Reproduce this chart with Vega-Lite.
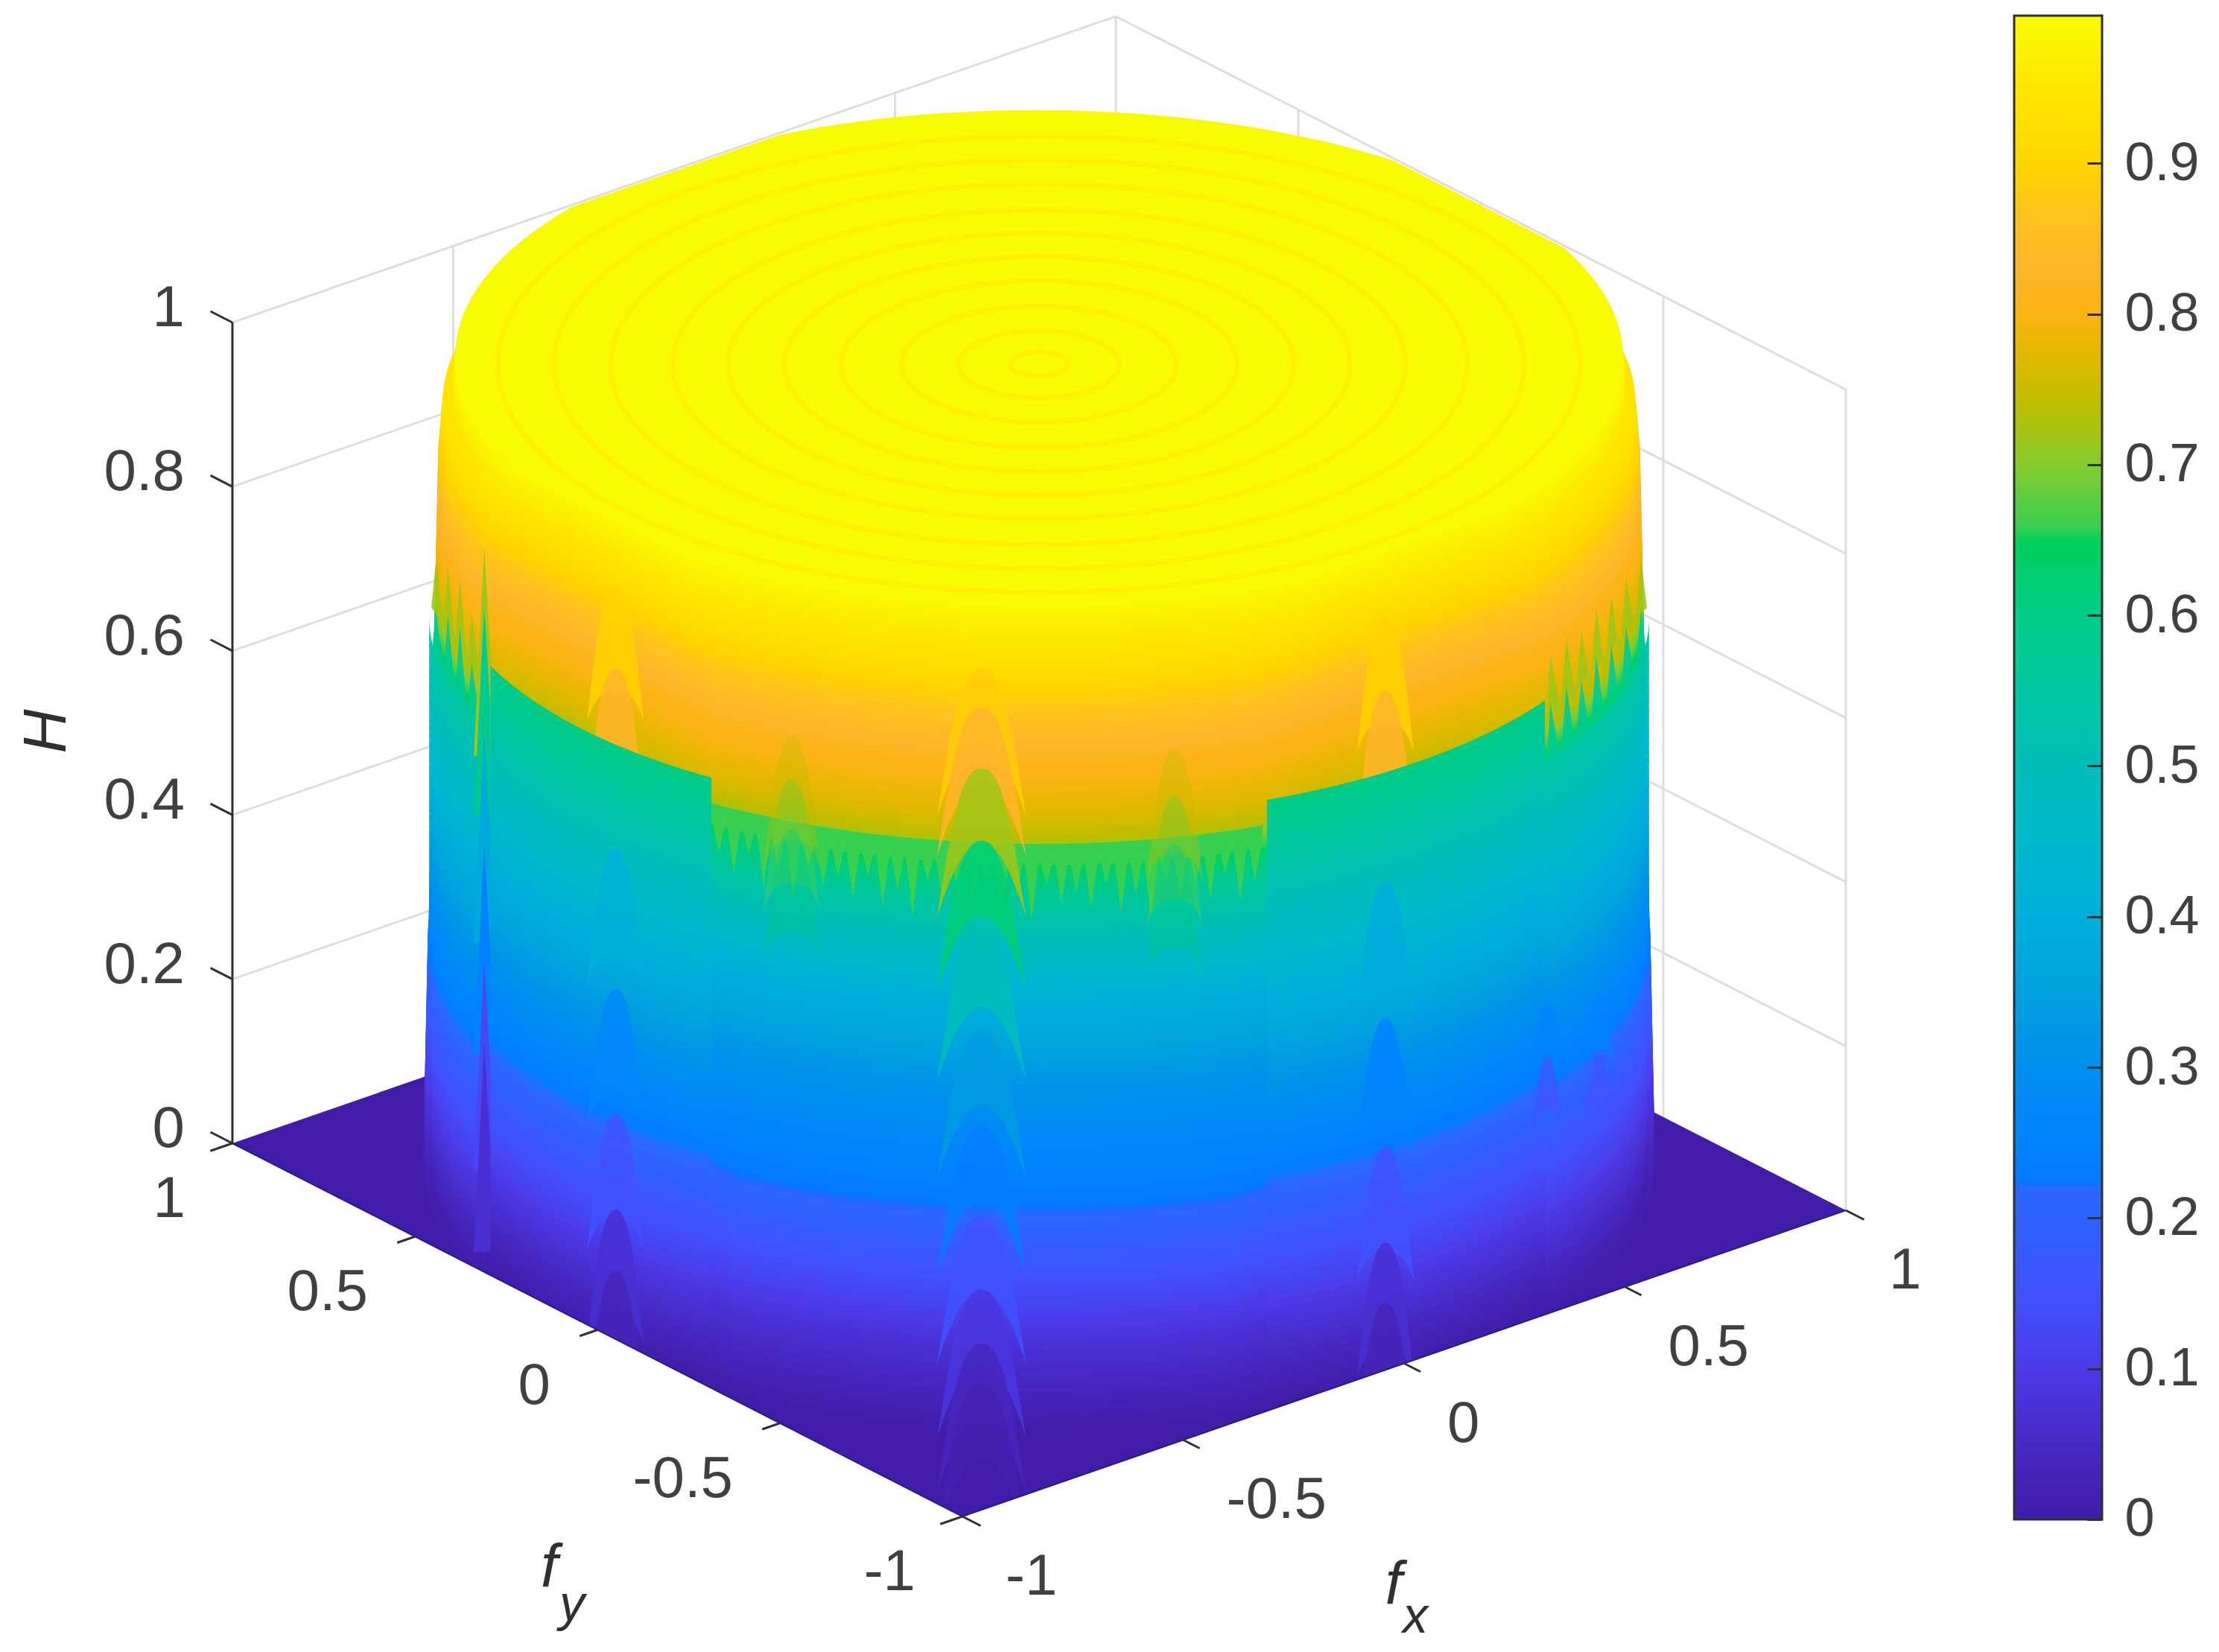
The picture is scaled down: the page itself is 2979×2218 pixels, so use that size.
{"$schema":"https://vega.github.io/schema/vega-lite/v6.json","width":2979,"height":2218,"autosize":{"type":"none"},"padding":0,"background":"white","config":{"view":{"stroke":null}},
"data":{"values":[
{"k":"f","H":0,"C":0},{"k":"bar","H":0,"H2":0.998,"C":0},{"k":"z","H":0.7,"C":0.66},{"k":"y","H":0.73,"C":0.72},{"k":"y","H":0.67,"C":0.58},
{"k":"g","fx":-1,"fy":1,"H":0.2,"fx2":1,"fy2":1,"H2":0.2},{"k":"g","fx":-1,"fy":1,"H":0.4,"fx2":1,"fy2":1,"H2":0.4},{"k":"g","fx":-1,"fy":1,"H":0.6,"fx2":1,"fy2":1,"H2":0.6},{"k":"g","fx":-1,"fy":1,"H":0.8,"fx2":1,"fy2":1,"H2":0.8},{"k":"g","fx":-1,"fy":1,"H":1,"fx2":1,"fy2":1,"H2":1},
{"k":"g","fx":1,"fy":1,"H":0.2,"fx2":1,"fy2":-1,"H2":0.2},{"k":"g","fx":1,"fy":1,"H":0.4,"fx2":1,"fy2":-1,"H2":0.4},{"k":"g","fx":1,"fy":1,"H":0.6,"fx2":1,"fy2":-1,"H2":0.6},{"k":"g","fx":1,"fy":1,"H":0.8,"fx2":1,"fy2":-1,"H2":0.8},{"k":"g","fx":1,"fy":1,"H":1,"fx2":1,"fy2":-1,"H2":1},
{"k":"g","fx":-0.5,"fy":1,"H":0,"fx2":-0.5,"fy2":1,"H2":1},{"k":"g","fx":0,"fy":1,"H":0,"fx2":0,"fy2":1,"H2":1},{"k":"g","fx":0.5,"fy":1,"H":0,"fx2":0.5,"fy2":1,"H2":1},{"k":"g","fx":1,"fy":1,"H":0,"fx2":1,"fy2":1,"H2":1},
{"k":"g","fx":1,"fy":0.5,"H":0,"fx2":1,"fy2":0.5,"H2":1},{"k":"g","fx":1,"fy":0,"H":0,"fx2":1,"fy2":0,"H2":1},{"k":"g","fx":1,"fy":-0.5,"H":0,"fx2":1,"fy2":-0.5,"H2":1},{"k":"g","fx":1,"fy":-1,"H":0,"fx2":1,"fy2":-1,"H2":1},
{"k":"e","fx":-1,"fy":1,"fx2":-1,"fy2":-1},{"k":"e","fx":-1,"fy":-1,"fx2":1,"fy2":-1},
{"k":"d","fx":-1,"fy":1,"H":0,"fx2":-1,"fy2":1,"H2":1},
{"k":"d","fx":-1,"fy":1,"H":0,"fx2":-1,"fy2":1.06,"H2":0},{"k":"d","fx":-1,"fy":1,"H":0.2,"fx2":-1,"fy2":1.06,"H2":0.2},{"k":"d","fx":-1,"fy":1,"H":0.4,"fx2":-1,"fy2":1.06,"H2":0.4},{"k":"d","fx":-1,"fy":1,"H":0.6,"fx2":-1,"fy2":1.06,"H2":0.6},{"k":"d","fx":-1,"fy":1,"H":0.8,"fx2":-1,"fy2":1.06,"H2":0.8},{"k":"d","fx":-1,"fy":1,"H":1,"fx2":-1,"fy2":1.06,"H2":1},
{"k":"d","fx":-1,"fy":1,"fx2":-1.05,"fy2":1},{"k":"d","fx":-1,"fy":0.5,"fx2":-1.04,"fy2":0.5},{"k":"d","fx":-1,"fy":0,"fx2":-1.04,"fy2":0},{"k":"d","fx":-1,"fy":-0.5,"fx2":-1.04,"fy2":-0.5},{"k":"d","fx":-1,"fy":-1,"fx2":-1.05,"fy2":-1},
{"k":"d","fx":-1,"fy":-1,"fx2":-1,"fy2":-1.05},{"k":"d","fx":-0.5,"fy":-1,"fx2":-0.5,"fy2":-1.045},{"k":"d","fx":0,"fy":-1,"fx2":0,"fy2":-1.045},{"k":"d","fx":0.5,"fy":-1,"fx2":0.5,"fy2":-1.045},{"k":"d","fx":1,"fy":-1,"fx2":1,"fy2":-1.05},
{"k":"ly","fx":-1,"fy":1,"t":"1"},{"k":"ly","fx":-1,"fy":0.5,"t":"0.5"},{"k":"ly","fx":-1,"fy":0,"t":"0"},{"k":"ly","fx":-1,"fy":-0.5,"t":"-0.5"},{"k":"ly","fx":-1,"fy":-1,"t":"-1"},
{"k":"lx","fx":-1,"fy":-1,"t":"-1"},{"k":"lx","fx":-0.5,"fy":-1,"t":"-0.5"},{"k":"lx","fx":0,"fy":-1,"t":"0"},{"k":"lx","fx":0.5,"fy":-1,"t":"0.5"},{"k":"lx","fx":1,"fy":-1,"t":"1"},
{"k":"lh","fx":-1,"fy":1,"H":0,"t":"0"},{"k":"lh","fx":-1,"fy":1,"H":0.2,"t":"0.2"},{"k":"lh","fx":-1,"fy":1,"H":0.4,"t":"0.4"},{"k":"lh","fx":-1,"fy":1,"H":0.6,"t":"0.6"},{"k":"lh","fx":-1,"fy":1,"H":0.8,"t":"0.8"},{"k":"lh","fx":-1,"fy":1,"H":1,"t":"1"},
{"k":"n","fx":-1.693,"fy":-0.7066,"t":"f"},{"k":"n","fx":-0.599,"fy":-1.6963,"t":"f"},{"k":"m","fx":-1.7626,"fy":-0.8535,"t":"y"},{"k":"m","fx":-0.6563,"fy":-1.8249,"t":"x"},{"k":"T","fx":-0.1631,"fy":2.521,"t":"H"},
{"k":"r","H":0.99,"r":0.05},{"k":"r","H":0.99,"r":0.14},{"k":"r","H":0.99,"r":0.24},{"k":"r","H":0.99,"r":0.346},{"k":"r","H":0.99,"r":0.445},{"k":"r","H":0.99,"r":0.543},{"k":"r","H":0.99,"r":0.64},{"k":"r","H":0.99,"r":0.748},{"k":"r","H":0.99,"r":0.847},{"k":"r","H":0.99,"r":0.945},
{"k":"v","fx":-0.943,"fy":-0.4638,"H":0.818,"C":0.74},{"k":"v","fx":-0.943,"fy":-0.4638,"H":0.766,"C":0.68},{"k":"v","fx":-0.943,"fy":-0.4638,"H":0.705,"C":0.6},
{"k":"v","fx":-0.4678,"fy":-0.9376,"H":0.821,"C":0.74},{"k":"v","fx":-0.4678,"fy":-0.9376,"H":0.764,"C":0.68},{"k":"v","fx":-0.4678,"fy":-0.9376,"H":0.706,"C":0.6},
{"k":"a","fx":-0.75,"fy":-0.75,"H":0.93,"C":0.89},{"k":"a","fx":-0.75,"fy":-0.75,"H":0.882,"C":0.83},{"k":"a","fx":-0.75,"fy":-0.75,"H":0.808,"C":0.72},{"k":"a","fx":-0.75,"fy":-0.75,"H":0.72,"C":0.62},{"k":"a","fx":-0.75,"fy":-0.75,"H":0.608,"C":0.5},{"k":"a","fx":-0.75,"fy":-0.75,"H":0.489,"C":0.34},{"k":"a","fx":-0.75,"fy":-0.75,"H":0.372,"C":0.235},{"k":"a","fx":-0.75,"fy":-0.75,"H":0.263,"C":0.15},{"k":"a","fx":-0.75,"fy":-0.75,"H":0.173,"C":0.09},{"k":"a","fx":-0.75,"fy":-0.75,"H":0.107,"C":0.04},{"k":"a","fx":-0.75,"fy":-0.75,"H":0.058,"C":0.015},
{"k":"c","fx":-1,"fy":-0.05,"H":0.917,"C":0.9},{"k":"c","fx":-1,"fy":-0.05,"H":0.817,"C":0.83},{"k":"c","fx":-1,"fy":-0.05,"H":0.597,"C":0.41},{"k":"c","fx":-1,"fy":-0.05,"H":0.427,"C":0.27},{"k":"c","fx":-1,"fy":-0.05,"H":0.274,"C":0.15},{"k":"c","fx":-1,"fy":-0.05,"H":0.158,"C":0.07},{"k":"c","fx":-1,"fy":-0.05,"H":0.083,"C":0.03},
{"k":"c","fx":-0.042,"fy":-1,"H":0.917,"C":0.9},{"k":"c","fx":-0.042,"fy":-1,"H":0.827,"C":0.83},{"k":"c","fx":-0.042,"fy":-1,"H":0.595,"C":0.39},{"k":"c","fx":-0.042,"fy":-1,"H":0.428,"C":0.25},{"k":"c","fx":-0.042,"fy":-1,"H":0.272,"C":0.15},{"k":"c","fx":-0.042,"fy":-1,"H":0.155,"C":0.07},{"k":"c","fx":-0.042,"fy":-1,"H":0.082,"C":0.03},
{"k":"q","fx":0.325,"fy":-1,"H":0.38,"C":0.25},{"k":"q","fx":0.325,"fy":-1,"H":0.313,"C":0.15},{"k":"q","fx":0.48,"fy":-0.954,"H":0.345,"C":0.25},{"k":"q","fx":0.48,"fy":-0.954,"H":0.276,"C":0.15},
{"k":"s","fx":-1,"fy":0.31,"H":0.883,"C":0.72},{"k":"s","fx":-1,"fy":0.31,"H":0.811,"C":0.58},{"k":"s","fx":-1,"fy":0.31,"H":0.656,"C":0.38},{"k":"s","fx":-1,"fy":0.31,"H":0.52,"C":0.25},{"k":"s","fx":-1,"fy":0.31,"H":0.379,"C":0.13},{"k":"s","fx":-1,"fy":0.31,"H":0.279,"C":0.07},
{"k":"b","H":0.01,"C":0.008},{"k":"b","H":0.02,"C":0.016},{"k":"b","H":0.03,"C":0.025},{"k":"b","H":0.04,"C":0.033},{"k":"b","H":0.05,"C":0.041},{"k":"b","H":0.06,"C":0.049},{"k":"b","H":0.07,"C":0.057},{"k":"b","H":0.08,"C":0.066},{"k":"b","H":0.09,"C":0.074},{"k":"b","H":0.1,"C":0.082},{"k":"b","H":0.11,"C":0.09},{"k":"b","H":0.12,"C":0.098},{"k":"b","H":0.13,"C":0.107},{"k":"b","H":0.14,"C":0.115},{"k":"b","H":0.15,"C":0.123},{"k":"b","H":0.16,"C":0.131},{"k":"b","H":0.17,"C":0.139},{"k":"b","H":0.18,"C":0.148},{"k":"b","H":0.19,"C":0.156},{"k":"b","H":0.2,"C":0.164},{"k":"b","H":0.21,"C":0.172},{"k":"b","H":0.22,"C":0.18},{"k":"b","H":0.23,"C":0.189},{"k":"b","H":0.24,"C":0.197},{"k":"b","H":0.25,"C":0.205},{"k":"b","H":0.26,"C":0.213},{"k":"b","H":0.27,"C":0.221},{"k":"b","H":0.28,"C":0.23},{"k":"b","H":0.29,"C":0.238},{"k":"b","H":0.3,"C":0.246},{"k":"b","H":0.31,"C":0.254},{"k":"b","H":0.32,"C":0.262},{"k":"b","H":0.33,"C":0.271},{"k":"b","H":0.34,"C":0.279},{"k":"b","H":0.35,"C":0.287},{"k":"b","H":0.36,"C":0.295},{"k":"b","H":0.37,"C":0.303},{"k":"b","H":0.38,"C":0.312},{"k":"b","H":0.39,"C":0.32},{"k":"b","H":0.4,"C":0.328},{"k":"b","H":0.41,"C":0.336},{"k":"b","H":0.42,"C":0.344},{"k":"b","H":0.43,"C":0.353},{"k":"b","H":0.44,"C":0.361},{"k":"b","H":0.45,"C":0.369},{"k":"b","H":0.46,"C":0.377},{"k":"b","H":0.47,"C":0.385},{"k":"b","H":0.48,"C":0.394},{"k":"b","H":0.49,"C":0.402},{"k":"b","H":0.5,"C":0.41},{"k":"b","H":0.51,"C":0.418},{"k":"b","H":0.52,"C":0.426},{"k":"b","H":0.53,"C":0.435},{"k":"b","H":0.54,"C":0.443},{"k":"b","H":0.55,"C":0.451},{"k":"b","H":0.56,"C":0.459},{"k":"b","H":0.57,"C":0.467},{"k":"b","H":0.58,"C":0.476},{"k":"b","H":0.59,"C":0.484},{"k":"b","H":0.6,"C":0.492},{"k":"b","H":0.61,"C":0.5},{"k":"b","H":0.62,"C":0.508},{"k":"b","H":0.63,"C":0.517},{"k":"b","H":0.64,"C":0.525},{"k":"b","H":0.65,"C":0.533},{"k":"b","H":0.66,"C":0.541},{"k":"b","H":0.67,"C":0.55},{"k":"b","H":0.68,"C":0.558},{"k":"b","H":0.69,"C":0.566},{"k":"b","H":0.7,"C":0.575},{"k":"b","H":0.71,"C":0.583},{"k":"b","H":0.72,"C":0.591},{"k":"b","H":0.73,"C":0.6},
{"H":0.005,"C":0.004},{"H":0.01,"C":0.007},{"H":0.015,"C":0.011},{"H":0.02,"C":0.014},{"H":0.025,"C":0.018},{"H":0.03,"C":0.021},{"H":0.035,"C":0.025},{"H":0.04,"C":0.028},{"H":0.045,"C":0.032},{"H":0.05,"C":0.035},{"H":0.055,"C":0.039},{"H":0.06,"C":0.042},{"H":0.065,"C":0.046},{"H":0.07,"C":0.049},{"H":0.075,"C":0.053},{"H":0.08,"C":0.056},{"H":0.085,"C":0.06},{"H":0.09,"C":0.063},{"H":0.095,"C":0.067},{"H":0.1,"C":0.07},{"H":0.105,"C":0.074},{"H":0.11,"C":0.079},{"H":0.115,"C":0.083},{"H":0.12,"C":0.088},{"H":0.125,"C":0.092},{"H":0.13,"C":0.096},{"H":0.135,"C":0.101},{"H":0.14,"C":0.105},{"H":0.145,"C":0.109},{"H":0.15,"C":0.114},{"H":0.155,"C":0.118},{"H":0.16,"C":0.123},{"H":0.165,"C":0.127},{"H":0.17,"C":0.131},{"H":0.175,"C":0.136},{"H":0.18,"C":0.14},{"H":0.185,"C":0.145},{"H":0.19,"C":0.149},{"H":0.195,"C":0.154},{"H":0.2,"C":0.158},{"H":0.205,"C":0.163},{"H":0.21,"C":0.167},{"H":0.215,"C":0.172},{"H":0.22,"C":0.176},{"H":0.225,"C":0.181},{"H":0.23,"C":0.186},{"H":0.235,"C":0.19},{"H":0.24,"C":0.195},{"H":0.245,"C":0.199},{"H":0.25,"C":0.204},{"H":0.255,"C":0.208},{"H":0.26,"C":0.213},{"H":0.265,"C":0.217},{"H":0.27,"C":0.222},{"H":0.275,"C":0.225},{"H":0.28,"C":0.229},{"H":0.285,"C":0.232},{"H":0.29,"C":0.235},{"H":0.295,"C":0.238},{"H":0.3,"C":0.242},{"H":0.305,"C":0.245},{"H":0.31,"C":0.248},{"H":0.315,"C":0.251},{"H":0.32,"C":0.255},{"H":0.325,"C":0.258},{"H":0.33,"C":0.261},{"H":0.335,"C":0.264},{"H":0.34,"C":0.268},{"H":0.345,"C":0.271},{"H":0.35,"C":0.274},{"H":0.355,"C":0.278},{"H":0.36,"C":0.281},{"H":0.365,"C":0.284},{"H":0.37,"C":0.287},{"H":0.375,"C":0.291},{"H":0.38,"C":0.294},{"H":0.385,"C":0.297},{"H":0.39,"C":0.3},{"H":0.395,"C":0.304},{"H":0.4,"C":0.307},{"H":0.405,"C":0.31},{"H":0.41,"C":0.313},{"H":0.415,"C":0.317},{"H":0.42,"C":0.32},{"H":0.425,"C":0.324},{"H":0.43,"C":0.329},{"H":0.435,"C":0.333},{"H":0.44,"C":0.337},{"H":0.445,"C":0.341},{"H":0.45,"C":0.346},{"H":0.455,"C":0.35},{"H":0.46,"C":0.354},{"H":0.465,"C":0.359},{"H":0.47,"C":0.363},{"H":0.475,"C":0.367},{"H":0.48,"C":0.371},{"H":0.485,"C":0.376},{"H":0.49,"C":0.38},{"H":0.495,"C":0.384},{"H":0.5,"C":0.389},{"H":0.505,"C":0.393},{"H":0.51,"C":0.397},{"H":0.515,"C":0.401},{"H":0.52,"C":0.406},{"H":0.525,"C":0.41},{"H":0.53,"C":0.417},{"H":0.535,"C":0.423},{"H":0.54,"C":0.43},{"H":0.545,"C":0.436},{"H":0.55,"C":0.443},{"H":0.555,"C":0.449},{"H":0.56,"C":0.456},{"H":0.565,"C":0.462},{"H":0.57,"C":0.469},{"H":0.575,"C":0.475},{"H":0.58,"C":0.482},{"H":0.585,"C":0.488},{"H":0.59,"C":0.495},{"H":0.595,"C":0.501},{"H":0.6,"C":0.508},{"H":0.605,"C":0.514},{"H":0.61,"C":0.521},{"H":0.615,"C":0.527},{"H":0.62,"C":0.534},{"H":0.625,"C":0.54},{"H":0.63,"C":0.547},{"H":0.635,"C":0.553},{"H":0.64,"C":0.56},{"H":0.645,"C":0.569},{"H":0.65,"C":0.578},{"H":0.655,"C":0.586},{"H":0.66,"C":0.595},{"H":0.665,"C":0.604},{"H":0.67,"C":0.613},{"H":0.675,"C":0.621},{"H":0.68,"C":0.63},{"H":0.685,"C":0.644},{"H":0.69,"C":0.658},{"H":0.695,"C":0.671},{"H":0.7,"C":0.685},{"H":0.705,"C":0.699},{"H":0.71,"C":0.713},{"H":0.715,"C":0.726},{"H":0.72,"C":0.74},{"H":0.725,"C":0.746},{"H":0.73,"C":0.752},{"H":0.735,"C":0.758},{"H":0.74,"C":0.764},{"H":0.745,"C":0.77},{"H":0.75,"C":0.773},{"H":0.755,"C":0.776},{"H":0.76,"C":0.78},{"H":0.765,"C":0.783},{"H":0.77,"C":0.786},{"H":0.775,"C":0.789},{"H":0.78,"C":0.792},{"H":0.785,"C":0.795},{"H":0.79,"C":0.799},{"H":0.795,"C":0.802},{"H":0.8,"C":0.805},{"H":0.805},{"H":0.81},{"H":0.815},{"H":0.82},{"H":0.825},{"H":0.83},{"H":0.835},{"H":0.84},{"H":0.845},{"H":0.85},{"H":0.855},{"H":0.86},{"H":0.865},{"H":0.87},{"H":0.875},{"H":0.88},{"H":0.885},{"H":0.89},{"H":0.895},{"H":0.9},{"H":0.905},{"H":0.91},{"H":0.915},{"H":0.92},{"H":0.925},{"H":0.93},{"H":0.935},{"H":0.94},{"H":0.945},{"H":0.95},{"H":0.955},{"H":0.96},{"H":0.965},{"H":0.97},{"H":0.975},{"H":0.98},{"H":0.985},{"H":0.99},{"H":0.995},{"H":1}
]},
"transform":[
{"calculate":"1395+593*(datum.fx||0)-490*(datum.fy||0)","as":"sx"},
{"calculate":"1580-205.5*(datum.fx||0)-250.5*(datum.fy||0)-1102*(datum.H||0)","as":"sy"},
{"calculate":"1395+593*(datum.fx2||0)-490*(datum.fy2||0)","as":"sx2"},
{"calculate":"1580-205.5*(datum.fx2||0)-250.5*(datum.fy2||0)-1102*(datum.H2||0)","as":"sy2"},
{"calculate":"datum.C==null?datum.H:datum.C","as":"Cv"}
],
"encoding":{
"x":{"field":"sx","type":"quantitative","axis":null,"scale":{"domain":[0,2979],"nice":false,"zero":false}},
"y":{"field":"sy","type":"quantitative","axis":null,"scale":{"domain":[2218,0],"nice":false,"zero":false}},
"color":{"field":"Cv","type":"quantitative","legend":null,"scale":{"interpolate":"rgb","clamp":true,"domain":[0,0.05,0.1,0.15,0.2,0.22,0.225,0.25,0.3,0.35,0.4,0.45,0.5,0.55,0.6,0.65,0.66,0.7,0.74,0.78,0.8,0.83,0.87,0.9,0.95,1],"range":["#421CA8","#4828C4","#4B3AE6","#4152FF","#2F62FF","#2A66FF","#0678FF","#0082FF","#008EF0","#00A0DE","#00AEDA","#00B9CC","#00BEBA","#00C6A2","#00CC88","#00D05C","#38D050","#84CC30","#BDBE00","#E6B800","#FBB414","#FFB52A","#FFC41C","#FFD400","#FFE600","#F9FC00"]}}
},
"resolve":{"scale":{"y":"independent","size":"independent"},"axis":{"y":"independent"}},
"layer":[
{"transform":[{"filter":"datum.k=='g'"}],"mark":{"type":"rule","strokeWidth":3},"encoding":{"x2":{"field":"sx2"},"y2":{"field":"sy2"},"color":{"value":"#DEDEDE"}}},
{"transform":[{"filter":"datum.k=='f'"}],"mark":{"type":"point","filled":true,"opacity":1,"strokeWidth":0,"size":5760000,"shape":"M-.9025 -.0375L-.0858 .38L.9025 .0375L.0858 -.38Z"}},
{"transform":[{"filter":"!datum.k&&datum.H<0.3"}],"mark":{"type":"point","filled":true,"opacity":1,"strokeWidth":0,"shape":"M-.974 .1379L-.5085 .3759A1.0285 .4334 0 0 0 .3309 .4107L.8941 .2155A1.0285 .4334 0 0 0 .974 -.1379L.5085 -.3759A1.0285 .4334 0 0 0 -.3309 -.4107L-.8941 -.2155A1.0285 .4334 0 0 0 -.974 .1379Z"},"encoding":{"size":{"field":"H","type":"quantitative","legend":null,"scale":{"zero":false,"domain":[0,0.3],"range":[2588700,2545700]}}}},
{"transform":[{"filter":"!datum.k&&datum.H>=0.3&&datum.H<0.6"}],"mark":{"type":"point","filled":true,"opacity":1,"strokeWidth":0,"shape":"M-.9544 .1479L-.5281 .3659A1.0189 .4293 0 0 0 .3545 .4025L.8705 .2238A1.0189 .4293 0 0 0 .9544 -.1479L.5281 -.3659A1.0189 .4293 0 0 0 -.3545 -.4025L-.8705 -.2238A1.0189 .4293 0 0 0 -.9544 .1479Z"},"encoding":{"size":{"field":"H","type":"quantitative","legend":null,"scale":{"zero":false,"domain":[0.3,0.6],"range":[2593900,2550300]}}}},
{"transform":[{"filter":"!datum.k&&datum.H>=0.6&&datum.H<0.88"}],"mark":{"type":"point","filled":true,"opacity":1,"strokeWidth":0,"shape":"M-.9373 .1566L-.5453 .3571A1.0093 .4253 0 0 0 .3753 .3954L.8498 .2309A1.0093 .4253 0 0 0 .9373 -.1566L.5453 -.3571A1.0093 .4253 0 0 0 -.3753 -.3954L-.8498 -.2309A1.0093 .4253 0 0 0 -.9373 .1566Z"},"encoding":{"size":{"field":"H","type":"quantitative","legend":null,"scale":{"zero":false,"domain":[0.6,0.88],"range":[2599100,2554900]}}}},
{"transform":[{"filter":"!datum.k&&datum.H>=0.88&&datum.H<0.95"}],"mark":{"type":"point","filled":true,"opacity":1,"strokeWidth":0,"shape":"M-.9163 .1674L-.5663 .3464A.9997 .4212 0 0 0 .4008 .3865L.8243 .2398A.9997 .4212 0 0 0 .9163 -.1674L.5663 -.3464A.9997 .4212 0 0 0 -.4008 -.3865L-.8243 -.2398A.9997 .4212 0 0 0 -.9163 .1674Z"},"encoding":{"size":{"field":"H","type":"quantitative","legend":null,"scale":{"zero":false,"domain":[0.88,0.95],"range":[2604600,2560000]}}}},
{"transform":[{"filter":"!datum.k&&datum.H>=0.95"}],"mark":{"type":"point","filled":true,"opacity":1,"strokeWidth":0,"shape":"M-.885 .1833L-.5975 .3305A.9997 .4212 0 0 0 .4383 .3735L.7868 .2528A.9997 .4212 0 0 0 .885 -.1833L.5975 -.3305A.9997 .4212 0 0 0 -.4383 -.3735L-.7868 -.2528A.9997 .4212 0 0 0 -.885 .1833Z"},"encoding":{"size":{"field":"H","type":"quantitative","legend":null,"scale":{"zero":false,"domain":[0.95,1],"range":[2560000,2530000]}}}},
{"transform":[{"filter":"datum.k=='z'"}],"mark":{"type":"point","filled":true,"opacity":1,"strokeWidth":0,"size":2560000,"shape":"M-.55 .357L-.5375 .42L-.525 .363L-.5125 .456L-.5 .369L-.4875 .422L-.475 .375L-.4625 .478L-.45 .381L-.4375 .453L-.425 .386L-.4125 .498L-.4 .39L-.3875 .443L-.375 .395L-.3625 .477L-.35 .399L-.3375 .461L-.325 .403L-.3125 .495L-.3 .406L-.2875 .458L-.275 .409L-.2625 .51L-.25 .412L-.2375 .484L-.225 .415L-.2125 .526L-.2 .417L-.1875 .468L-.175 .419L-.1625 .5L-.15 .421L-.1375 .481L-.125 .422L-.1125 .512L-.1 .423L-.0875 .473L-.075 .424L-.0625 .524L-.05 .425L-.0375 .495L-.025 .425L-.0125 .535L0 .425L.0125 .475L.025 .425L.0375 .505L.05 .425L.0625 .485L.075 .424L.0875 .513L.1 .423L.1125 .473L.125 .422L.1375 .521L.15 .421L.1625 .49L.175 .419L.1875 .528L.2 .417L.2125 .466L.225 .415L.2375 .494L.25 .412L.2625 .471L.275 .409L.2875 .498L.3 .406L.3125 .455L.325 .403L.3375 .5L.35 .399L.3625 .467L.375 .395L.375 .375A1.0093 .4253 0 0 1 -.55 .337Z"}},
{"transform":[{"filter":"datum.k=='v'"}],"mark":{"type":"point","filled":true,"opacity":0.35,"strokeWidth":0,"size":160000,"shape":"M-.19 .9C-.13 .35 -.09 0 0 0C.09 0 .13 .35 .19 .9C.14 .7 .08 .7 0 .7C-.08 .7 -.14 .7 -.19 .9Z"}},
{"transform":[{"filter":"datum.k=='a'"}],"mark":{"type":"point","filled":true,"opacity":0.85,"strokeWidth":0,"size":160000,"shape":"M-.3 1C-.2 .4 -.15 0 0 0C.15 0 .2 .4 .3 1C.22 .75 .12 .5 0 .5C-.12 .5 -.22 .75 -.3 1Z"}},
{"transform":[{"filter":"datum.k=='c'&&datum.C>0.7"}],"mark":{"type":"point","filled":true,"opacity":0.85,"strokeWidth":0,"size":160000,"shape":"M-.19 .9C-.13 .35 -.09 0 0 0C.09 0 .13 .35 .19 .9C.14 .75 .08 .7 0 .7C-.08 .7 -.14 .75 -.19 .9Z"}},
{"transform":[{"filter":"datum.k=='b'"}],"mark":{"type":"point","filled":true,"opacity":1,"strokeWidth":0,"size":2560000,"shape":"M-.929 .1556A.9997 .4212 0 0 0 -.55 .3517L-.55 .3357A.9997 .4212 0 0 1 -.929 .1396Z"}},
{"transform":[{"filter":"datum.k=='b'"}],"mark":{"type":"point","filled":true,"opacity":1,"strokeWidth":0,"size":2560000,"shape":"M.3825 .3891A.9997 .4212 0 0 0 .8488 .2225L.8488 .2065A.9997 .4212 0 0 1 .3825 .3731Z"}},
{"transform":[{"filter":"datum.k=='y'"}],"mark":{"type":"point","filled":true,"opacity":0.9,"strokeWidth":0,"size":2560000,"shape":"M-1.02 .05L-1.012 -.03L-1 .08L-.992 -.02L-.98 .11L-.972 0L-.96 .14L-.952 .06L-.94 .15L-.933 .05L-.93 .19Z"}},
{"transform":[{"filter":"datum.k=='y'"}],"mark":{"type":"point","filled":true,"opacity":0.9,"strokeWidth":0,"size":2560000,"shape":"M.85 .25L.858 .13L.875 .22L.885 .1L.9 .2L.91 .09L.925 .18L.935 .05L.95 .16L.96 .03L.975 .13L.985 0L1 .09L1.01 -.03L1.02 .05Z"}},
{"transform":[{"filter":"datum.k=='b'&&datum.H<=0.67"}],"mark":{"type":"point","filled":true,"opacity":1,"strokeWidth":0,"size":2560000,"shape":"M-1.0237 0A1.0237 .4313 0 0 0 -.929 .1812L-.929 .1652A1.0237 .4313 0 0 1 -1.0237 -.016Z"}},
{"transform":[{"filter":"datum.k=='b'&&datum.H<=0.67"}],"mark":{"type":"point","filled":true,"opacity":1,"strokeWidth":0,"size":2560000,"shape":"M.849 .241A1.0237 .4313 0 0 0 1.0237 0L1.0237 -.016A1.0237 .4313 0 0 1 .849 .225Z"}},
{"transform":[{"filter":"datum.k=='c'&&datum.C<=0.7"}],"mark":{"type":"point","filled":true,"opacity":0.85,"strokeWidth":0,"size":160000,"shape":"M-.19 .9C-.13 .35 -.09 0 0 0C.09 0 .13 .35 .19 .9C.14 .75 .08 .7 0 .7C-.08 .7 -.14 .75 -.19 .9Z"}},
{"transform":[{"filter":"datum.k=='q'"}],"mark":{"type":"point","filled":true,"opacity":0.7,"strokeWidth":0,"size":40000,"shape":"M-.19 .9C-.13 .35 -.09 0 0 0C.09 0 .13 .35 .19 .9C.14 .75 .08 .7 0 .7C-.08 .7 -.14 .75 -.19 .9Z"}},
{"transform":[{"filter":"datum.k=='s'"}],"mark":{"type":"point","filled":true,"opacity":1,"strokeWidth":0,"size":313600,"shape":"M0 0L.03 .5L.03 1L-.05 1L-.03 .6Z"}},
{"transform":[{"filter":"datum.k=='r'"}],"mark":{"type":"point","filled":false,"opacity":0.45,"strokeWidth":7,"shape":"M-1 0A1 .4213 0 1 0 1 0A1 .4213 0 1 0 -1 0Z"},"encoding":{"color":{"value":"#FFE400"},"size":{"field":"r","type":"quantitative","legend":null,"scale":{"type":"pow","exponent":2,"domain":[0,1],"range":[0,2365444]}}}},
{"transform":[{"filter":"datum.k=='f'"}],"mark":{"type":"point","filled":true,"opacity":1,"strokeWidth":0,"size":5760000,"shape":"M-.9225 -.0375L-.9025 -.0375L-.0858 .38L.9025 .0375L.9225 .0375L.9225 .6L-.9225 .6Z"},"encoding":{"color":{"value":"white"}}},
{"transform":[{"filter":"datum.k=='e'"}],"mark":{"type":"rule","strokeWidth":2},"encoding":{"x2":{"field":"sx2"},"y2":{"field":"sy2"},"color":{"value":"#2D1A80"}}},
{"transform":[{"filter":"datum.k=='d'"}],"mark":{"type":"rule","strokeWidth":3},"encoding":{"x2":{"field":"sx2"},"y2":{"field":"sy2"},"color":{"value":"#303030"}}},
{"transform":[{"filter":"datum.k=='ly'"}],"mark":{"type":"text","font":"Liberation Sans","fontSize":78,"align":"right","baseline":"middle","dx":-63,"dy":76},"encoding":{"text":{"field":"t"},"color":{"value":"#404040"}}},
{"transform":[{"filter":"datum.k=='lx'"}],"mark":{"type":"text","font":"Liberation Sans","fontSize":78,"align":"left","baseline":"middle","dx":58,"dy":82},"encoding":{"text":{"field":"t"},"color":{"value":"#404040"}}},
{"transform":[{"filter":"datum.k=='lh'"}],"mark":{"type":"text","font":"Liberation Sans","fontSize":78,"align":"right","baseline":"middle","dx":-64,"dy":-18},"encoding":{"text":{"field":"t"},"color":{"value":"#404040"}}},
{"transform":[{"filter":"datum.k=='n'"}],"mark":{"type":"text","font":"Liberation Sans","fontStyle":"italic","fontSize":82,"align":"center","baseline":"middle"},"encoding":{"text":{"field":"t"},"color":{"value":"#303030"}}},
{"transform":[{"filter":"datum.k=='m'"}],"mark":{"type":"text","font":"Liberation Sans","fontStyle":"italic","fontSize":68,"align":"center","baseline":"middle"},"encoding":{"text":{"field":"t"},"color":{"value":"#303030"}}},
{"transform":[{"filter":"datum.k=='T'"}],"mark":{"type":"text","font":"Liberation Sans","fontStyle":"italic","fontSize":82,"align":"center","baseline":"middle","angle":270},"encoding":{"text":{"field":"t"},"color":{"value":"#303030"}}},
{"transform":[{"filter":"datum.k=='bar'"}],"mark":{"type":"rect","stroke":"#303030","strokeWidth":3,"fill":{"gradient":"linear","x1":0,"y1":1,"x2":0,"y2":0,"stops":[{"offset":0,"color":"#421CA8"},{"offset":0.05,"color":"#4828C4"},{"offset":0.1,"color":"#4B3AE6"},{"offset":0.15,"color":"#4152FF"},{"offset":0.2,"color":"#2F62FF"},{"offset":0.22,"color":"#2A66FF"},{"offset":0.225,"color":"#0678FF"},{"offset":0.25,"color":"#0082FF"},{"offset":0.3,"color":"#008EF0"},{"offset":0.35,"color":"#00A0DE"},{"offset":0.4,"color":"#00AEDA"},{"offset":0.45,"color":"#00B9CC"},{"offset":0.5,"color":"#00BEBA"},{"offset":0.55,"color":"#00C6A2"},{"offset":0.6,"color":"#00CC88"},{"offset":0.65,"color":"#00D05C"},{"offset":0.66,"color":"#38D050"},{"offset":0.7,"color":"#84CC30"},{"offset":0.74,"color":"#BDBE00"},{"offset":0.78,"color":"#E6B800"},{"offset":0.8,"color":"#FBB414"},{"offset":0.83,"color":"#FFB52A"},{"offset":0.87,"color":"#FFC41C"},{"offset":0.9,"color":"#FFD400"},{"offset":0.95,"color":"#FFE600"},{"offset":1,"color":"#F9FC00"}]}},
"encoding":{"color":null,"x":{"datum":2704,"type":"quantitative","axis":null,"scale":{"domain":[0,2979],"nice":false,"zero":false}},"x2":{"datum":2822},
"y":{"field":"H","type":"quantitative","scale":{"domain":[-0.088,1.0084],"nice":false,"zero":false},"axis":{"orient":"right","offset":-157,"title":null,"domain":false,"grid":false,"values":[0,0.1,0.2,0.3,0.4,0.5,0.6,0.7,0.8,0.9],"format":".1~f","tickSize":-20,"tickWidth":3,"tickColor":"#303030","labelFont":"Liberation Sans","labelFontSize":72,"labelColor":"#404040","labelPadding":50,"labelFlush":false,"labelOverlap":false,"zindex":1}},"y2":{"field":"H2"}}}
]}
